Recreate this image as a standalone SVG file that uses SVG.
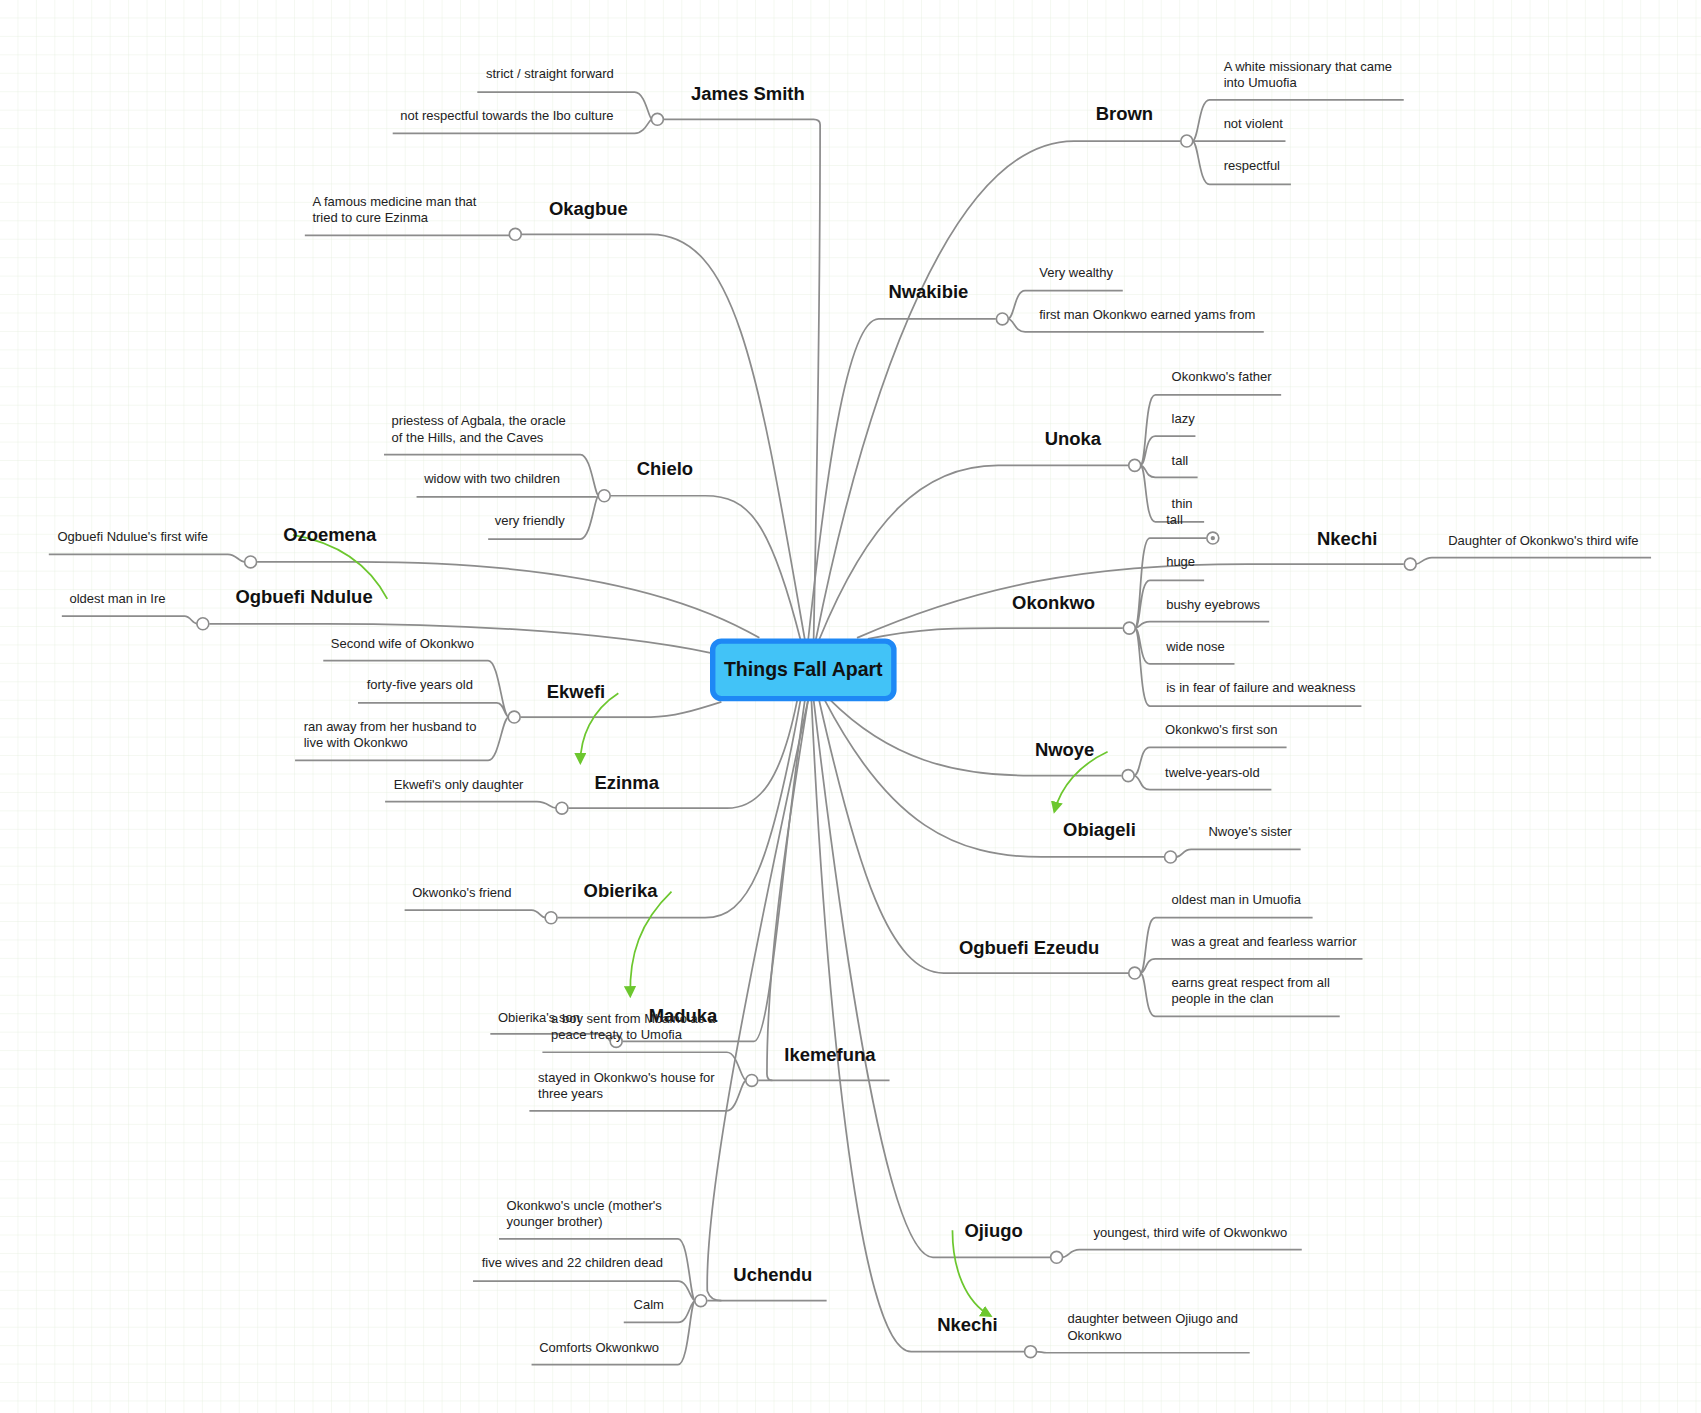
<svg xmlns="http://www.w3.org/2000/svg" width="1701" height="1413" viewBox="0 0 1701 1413">
<defs>
<pattern id="grid" width="18.44" height="18.44" patternUnits="userSpaceOnUse"><path d="M18.44 0V18.44H0" fill="none" stroke="#e6eedd" stroke-width="0.8"/></pattern>
<marker id="ah" viewBox="0 0 10 10" refX="8" refY="5" markerWidth="7" markerHeight="7" orient="auto"><path d="M0 0L10 5L0 10z" fill="#6cc72e"/></marker>
<style>
.c{fill:none;stroke:#8c8c8c;stroke-width:1.6}
.g{fill:none;stroke:#6cc72e;stroke-width:1.6}
.k{fill:#fff;stroke:#8c8c8c;stroke-width:1.5}
.t{font-family:"Liberation Sans",Arial,sans-serif;font-size:17px;font-weight:bold;fill:#111}
.s{font-family:"Liberation Sans",Arial,sans-serif;font-size:12px;fill:#222}
</style>
</defs>
<rect width="1701" height="1413" fill="#fff"/>
<rect width="1701" height="1413" fill="url(#grid)"/>
<g transform="scale(1.0848)">
<g id="connectors">
<path class="c" d="M750 590C756 300 756 120 756 115Q756 110 750 110H611"/>
<path class="c" d="M742 590C700 350 680 216 600 216H481"/>
<path class="c" d="M738 590C710 480 690 457 650 457H563"/>
<path class="c" d="M700 588C600 530 450 518 330 518H237"/>
<path class="c" d="M656 602C550 580 400 575 300 575H193"/>
<path class="c" d="M665 647C640 655 620 661 600 661H480"/>
<path class="c" d="M735 645C720 720 700 745 670 745H524"/>
<path class="c" d="M738 645C710 800 690 846 650 846H514"/>
<path class="c" d="M742 645C720 800 710 960 695 960H574"/>
<path class="c" d="M745 645C720 800 707 900 707 990Q707 996 712 996"/>
<path class="c" d="M745 645C690 900 650 1100 652 1190Q655 1199 665 1199"/>
<path class="c" d="M752 590C800 350 880 130 990 130H1088"/>
<path class="c" d="M745 590C760 450 780 294 810 294H918"/>
<path class="c" d="M755 590C800 480 850 429 920 429H1040"/>
<path class="c" d="M800 589C850 579 880 579 920 579H1035"/>
<path class="c" d="M790 588C900 540 1000 520 1150 520H1294"/>
<path class="c" d="M765 645C820 700 880 715 950 715H1034"/>
<path class="c" d="M760 645C820 760 880 790 960 790H1073"/>
<path class="c" d="M755 645C790 800 820 897 870 897H1040"/>
<path class="c" d="M750 645C780 900 820 1159 860 1159H968"/>
<path class="c" d="M748 645C760 900 790 1246 840 1246H944"/>
<path class="g" d="M270 493C310 500 340 520 357 552"/>
<path class="g" d="M570 639C545 655 535 680 535 703" marker-end="url(#ah)"/>
<path class="g" d="M1021 693C995 705 978 725 972 748" marker-end="url(#ah)"/>
<path class="g" d="M619 822C590 850 580 880 581 918" marker-end="url(#ah)"/>
<path class="g" d="M878 1134C878 1170 890 1200 913 1213" marker-end="url(#ah)"/>
</g>
<g id="central">
<rect x="657" y="591" width="167" height="53" rx="8" fill="#42c3f7" stroke="#1e88f5" stroke-width="5"/>
<text x="740.5" y="623" text-anchor="middle" class="t" style="font-size:18px">Things Fall Apart</text>
</g>
<g id="james-smith">
<text class="t" x="637" y="92">James Smith</text>
<path class="c" d="M440 85H585C595 85 598 110 601 110M362 123H585C595 123 598 110 601 110"/>
<circle class="k" cx="606" cy="110" r="5.5"/>
<text class="s" x="448" y="72">strict / straight forward</text>
<text class="s" x="369" y="111">not respectful towards the Ibo culture</text>
</g>
<g id="okagbue">
<text class="t" x="506" y="198">Okagbue</text>
<path class="c" d="M281 217H470"/>
<circle class="k" cx="475" cy="216" r="5.5"/>
<text class="s" x="288" y="190">A famous medicine man that</text>
<text class="s" x="288" y="205">tried to cure Ezinma</text>
</g>
<g id="chielo">
<text class="t" x="587" y="438">Chielo</text>
<path class="c" d="M354 419H535C545 419 548 457 552 457M384 458H550M450 497H535C545 497 548 457 552 457"/>
<circle class="k" cx="557" cy="457" r="5.5"/>
<text class="s" x="361" y="392">priestess of Agbala, the oracle</text>
<text class="s" x="361" y="407">of the Hills, and the Caves</text>
<text class="s" x="391" y="445">widow with two children</text>
<text class="s" x="456" y="484">very friendly</text>
</g>
<g id="ozoemena">
<text class="t" x="261" y="499">Ozoemena</text>
<path class="c" d="M45 511H210C218 511 220 518 226 518"/>
<circle class="k" cx="231" cy="518" r="5.5"/>
<text class="s" x="53" y="499">Ogbuefi Ndulue's first wife</text>
</g>
<g id="ogbuefi-ndulue">
<text class="t" x="217" y="556">Ogbuefi Ndulue</text>
<path class="c" d="M57 568H170C176 568 177 575 182 575"/>
<circle class="k" cx="187" cy="575" r="5.5"/>
<text class="s" x="64" y="556">oldest man in Ire</text>
</g>
<g id="ekwefi">
<text class="t" x="504" y="643">Ekwefi</text>
<path class="c" d="M298 609H450C460 609 463 661 469 661M330 648H458C465 648 465 661 469 661M272 701H450C460 701 463 661 469 661"/>
<circle class="k" cx="474" cy="661" r="5.5"/>
<text class="s" x="305" y="597">Second wife of Okonkwo</text>
<text class="s" x="338" y="635">forty-five years old</text>
<text class="s" x="280" y="674">ran away from her husband to</text>
<text class="s" x="280" y="689">live with Okonkwo</text>
</g>
<g id="ezinma">
<text class="t" x="548" y="727">Ezinma</text>
<path class="c" d="M355 739H495C505 739 507 745 513 745"/>
<circle class="k" cx="518" cy="745" r="5.5"/>
<text class="s" x="363" y="727">Ekwefi's only daughter</text>
</g>
<g id="obierika">
<text class="t" x="538" y="827">Obierika</text>
<path class="c" d="M373 839H490C497 839 498 846 503 846"/>
<circle class="k" cx="508" cy="846" r="5.5"/>
<text class="s" x="380" y="827">Okwonko's friend</text>
</g>
<g id="maduka">
<text class="t" x="598" y="942">Maduka</text>
<path class="c" d="M452 953H555C560 953 561 960 563 960"/>
<circle class="k" cx="568" cy="960" r="5.5"/>
<text class="s" x="459" y="942">Obierika's son</text>
</g>
<g id="ikemefuna">
<text class="t" x="723" y="978">Ikemefuna</text>
<path class="c" d="M699 996H820M500 970H670C680 970 683 996 688 996M488 1024H670C680 1024 683 996 688 996"/>
<circle class="k" cx="693" cy="996" r="5.5"/>
<text class="s" x="508" y="943">a boy sent from Mbaino as a</text>
<text class="s" x="508" y="958">peace treaty to Umofia</text>
<text class="s" x="496" y="997">stayed in Okonkwo's house for</text>
<text class="s" x="496" y="1012">three years</text>
</g>
<g id="uchendu">
<text class="t" x="676" y="1181">Uchendu</text>
<path class="c" d="M652 1199H762M460 1142H625C635 1142 636 1199 641 1199M436 1181H625C635 1181 636 1199 641 1199M575 1219H625C635 1219 636 1199 641 1199M490 1258H625C635 1258 636 1199 641 1199"/>
<circle class="k" cx="646" cy="1199" r="5.5"/>
<text class="s" x="467" y="1115">Okonkwo's uncle (mother's</text>
<text class="s" x="467" y="1130">younger brother)</text>
<text class="s" x="444" y="1168">five wives and 22 children dead</text>
<text class="s" x="612" y="1207" text-anchor="end">Calm</text>
<text class="s" x="497" y="1246">Comforts Okwonkwo</text>
</g>
<g id="brown">
<text class="t" x="1010" y="111">Brown</text>
<path class="c" d="M1099 130C1105 130 1105 92 1115 92H1294M1099 130H1185M1099 130C1105 130 1105 170 1115 170H1190"/>
<circle class="k" cx="1094" cy="130" r="5.5"/>
<text class="s" x="1128" y="65">A white missionary that came</text>
<text class="s" x="1128" y="80">into Umuofia</text>
<text class="s" x="1128" y="118">not violent</text>
<text class="s" x="1128" y="157">respectful</text>
</g>
<g id="nwakibie">
<text class="t" x="819" y="275">Nwakibie</text>
<path class="c" d="M929 294C935 294 935 268 945 268H1035M929 294C935 294 935 306 945 306H1165"/>
<circle class="k" cx="924" cy="294" r="5.5"/>
<text class="s" x="958" y="255">Very wealthy</text>
<text class="s" x="958" y="294">first man Okonkwo earned yams from</text>
</g>
<g id="unoka">
<text class="t" x="963" y="410">Unoka</text>
<path class="c" d="M1051 429C1057 429 1055 364 1065 364H1181M1051 429C1057 429 1055 402 1065 402H1102M1051 429C1057 429 1055 440 1065 440H1104M1051 429C1057 429 1055 481 1065 481H1110"/>
<circle class="k" cx="1046" cy="429" r="5.5"/>
<text class="s" x="1080" y="351">Okonkwo's father</text>
<text class="s" x="1080" y="390">lazy</text>
<text class="s" x="1080" y="429">tall</text>
<text class="s" x="1080" y="468">thin</text>
<text class="s" x="1075" y="483">tall</text>
</g>
<g id="okonkwo">
<text class="t" x="933" y="561">Okonkwo</text>
<path class="c" d="M1046 579C1052 579 1050 496 1060 496H1112M1046 579C1052 579 1050 535 1060 535H1110M1046 579C1052 579 1050 573 1060 573H1170M1046 579C1052 579 1050 612 1060 612H1138M1046 579C1052 579 1050 651 1060 651H1255"/>
<circle class="k" cx="1041" cy="579" r="5.5"/>
<circle class="k" cx="1118" cy="496" r="5.5"/>
<circle cx="1118" cy="496" r="2" fill="#8c8c8c"/>
<text class="s" x="1075" y="522">huge</text>
<text class="s" x="1075" y="561">bushy eyebrows</text>
<text class="s" x="1075" y="600">wide nose</text>
<text class="s" x="1075" y="638">is in fear of failure and weakness</text>
</g>
<g id="nkechi-1">
<text class="t" x="1214" y="502">Nkechi</text>
<path class="c" d="M1305 520C1310 520 1312 514 1320 514H1522"/>
<circle class="k" cx="1300" cy="520" r="5.5"/>
<text class="s" x="1335" y="502">Daughter of Okonkwo's third wife</text>
</g>
<g id="nwoye">
<text class="t" x="954" y="697">Nwoye</text>
<path class="c" d="M1045 715C1052 715 1050 689 1060 689H1186M1045 715C1052 715 1050 728 1060 728H1172"/>
<circle class="k" cx="1040" cy="715" r="5.5"/>
<text class="s" x="1074" y="677">Okonkwo's first son</text>
<text class="s" x="1074" y="716">twelve-years-old</text>
</g>
<g id="obiageli">
<text class="t" x="980" y="771">Obiageli</text>
<path class="c" d="M1084 790C1090 790 1090 783 1098 783H1199"/>
<circle class="k" cx="1079" cy="790" r="5.5"/>
<text class="s" x="1114" y="771">Nwoye's sister</text>
</g>
<g id="ogbuefi-ezeudu">
<text class="t" x="884" y="879">Ogbuefi Ezeudu</text>
<path class="c" d="M1051 897C1057 897 1055 846 1065 846H1210M1051 897C1057 897 1055 884 1065 884H1256M1051 897C1057 897 1055 937 1065 937H1235"/>
<circle class="k" cx="1046" cy="897" r="5.5"/>
<text class="s" x="1080" y="833">oldest man in Umuofia</text>
<text class="s" x="1080" y="872">was a great and fearless warrior</text>
<text class="s" x="1080" y="910">earns great respect from all</text>
<text class="s" x="1080" y="925">people in the clan</text>
</g>
<g id="ojiugo">
<text class="t" x="889" y="1140">Ojiugo</text>
<path class="c" d="M979 1159C985 1159 986 1152 995 1152H1200"/>
<circle class="k" cx="974" cy="1159" r="5.5"/>
<text class="s" x="1008" y="1140">youngest, third wife of Okwonkwo</text>
</g>
<g id="nkechi-2">
<text class="t" x="864" y="1227">Nkechi</text>
<path class="c" d="M955 1246C960 1246 960 1247 965 1247H1152"/>
<circle class="k" cx="950" cy="1246" r="5.5"/>
<text class="s" x="984" y="1220">daughter between Ojiugo and</text>
<text class="s" x="984" y="1235">Okonkwo</text>
</g>
</g>
</svg>
